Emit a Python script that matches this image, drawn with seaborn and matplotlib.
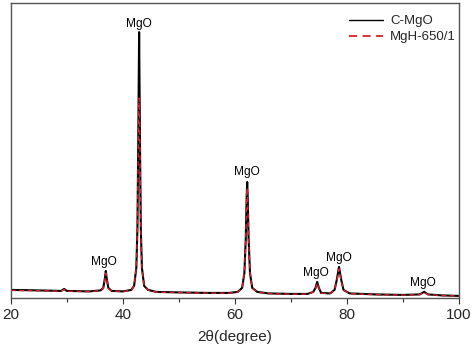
import matplotlib
matplotlib.use("Agg")
import matplotlib.pyplot as plt
import seaborn as sns
import pandas as pd
from matplotlib.ticker import MultipleLocator

# Data (2theta in degrees, intensity in arbitrary units)
two_theta = [20, 25, 29, 29.5, 30, 34, 36, 36.5, 36.8, 36.95, 37.1, 37.4, 38, 40,
             41.5, 42, 42.4, 42.6, 42.75, 42.9, 43.05, 43.2, 43.4, 43.8, 44.5, 46,
             50, 55, 59, 60.5, 61.3, 61.7, 61.95, 62.1, 62.2, 62.3, 62.45, 62.7,
             63.1, 64, 66, 70, 73, 74, 74.4, 74.7, 75.0, 75.4, 77, 77.8, 78.2, 78.6,
             79.0, 79.4, 80.5, 85, 90, 93, 93.8, 94.5, 97, 100]
c_mgo = [8, 7.5, 7, 9, 7, 6.5, 7.5, 10, 20, 27, 20, 10, 7, 6.5,
         8, 12, 30, 70, 160, 266, 160, 70, 30, 12, 8, 6,
         5.5, 5, 5, 6, 10, 25, 60, 100, 116, 100, 60, 25,
         10, 6, 4.5, 4, 4, 6, 10, 16, 10, 5, 4.5, 8, 18, 31,
         18, 8, 4.5, 3.5, 3, 3.5, 6, 3.5, 2.5, 2]
mgh_650 = [7.5, 7.2, 6.8, 8.5, 6.8, 6.3, 7.2, 9.5, 19, 25, 19, 9.5, 6.8, 6.3,
           7.8, 12, 30, 70, 150, 200, 150, 70, 30, 12, 7.8, 5.8,
           5.3, 4.8, 4.8, 5.8, 10, 25, 58, 96, 110, 96, 58, 25,
           10, 5.8, 4.3, 3.8, 3.8, 5.8, 9.5, 15, 9.5, 4.8, 4.3, 7.8, 17, 29,
           17, 7.8, 4.3, 3.3, 2.8, 3.3, 5.6, 3.3, 2.4, 1.9]

label_text = "MgO"
label_x = [42.9, 62.2, 36.6, 74.55, 78.6, 93.6]
label_y = [274, 126, 36.3, 25.3, 39.7, 14.7]

series_names = ["C-MgO", "MgH-650/1"]
xticks = [20, 40, 60, 80, 100]

df = pd.DataFrame({"x": two_theta * 2,
                   "y": c_mgo + mgh_650,
                   "sample": [series_names[0]] * len(two_theta) + [series_names[1]] * len(two_theta)})

sns.set_style("ticks")
plt.rcParams['font.family'] = ['Liberation Sans', 'DejaVu Sans']

fig = plt.figure(figsize=(4.74, 3.46), dpi=100)
ax = fig.add_axes([0.023, 0.139, 0.945, 0.852])

sns.lineplot(data=df[df["sample"] == series_names[0]], x="x", y="y", ax=ax,
             color="black", lw=1.5, label=series_names[0])
sns.lineplot(data=df[df["sample"] == series_names[1]], x="x", y="y", ax=ax,
             color="#d8202a", lw=1.0, linestyle=(0, (3.5, 2.5)), label=series_names[1])

for lx, ly in zip(label_x, label_y):
    ax.text(lx, ly, label_text, ha="center", va="center", fontsize=8.6, color="black")

ax.set_xlim(20, 100)
ax.set_ylim(0, 295)
ax.set_xticks(xticks)
ax.xaxis.set_minor_locator(MultipleLocator(10))
ax.set_yticks([])
ax.tick_params(axis="x", which="major", direction="out", length=4, width=0.8,
               labelsize=11, pad=3, color="#333333")
ax.tick_params(axis="x", which="minor", direction="out", length=3, width=0.8, color="#333333")
ax.set_xlabel("2θ(degree)", fontsize=11, labelpad=6)
ax.set_ylabel("")
for s in ax.spines.values():
    s.set_color("#555555")
    s.set_linewidth(1.0)

leg = ax.legend(loc="upper right", bbox_to_anchor=(1.02, 1.0), frameon=False,
                fontsize=9.5, handlelength=2.6, handletextpad=0.5,
                borderaxespad=0.5, labelspacing=0.3)
handles = leg.get_lines()
handles[0].set_linewidth(1.0)
handles[1].set_linewidth(1.3)
handles[1].set_linestyle((0, (4.5, 3)))

fig.savefig("out.png", dpi=100)
